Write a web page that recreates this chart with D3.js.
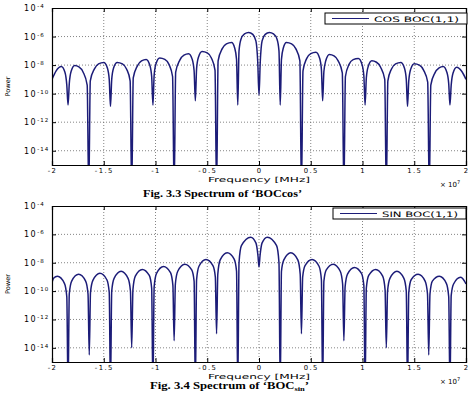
<!DOCTYPE html>
<html>
<head>
<meta charset="utf-8">
<script src="https://cdn.jsdelivr.net/npm/d3@7"></script>
<style>
  body { margin: 0; background: #fff; }
  text { font-family: "DejaVu Sans", "Liberation Sans", sans-serif; fill: #000; }
</style>
</head>
<body>
<svg id="fig" width="474" height="395"></svg>
<script>
// tick values
const xTickVals = [-2, -1.5, -1, -0.5, 0, 0.5, 1, 1.5, 2];
const yTickExps = [-4, -6, -8, -10, -12, -14];

// COS BOC(1,1): frequency (x10^7 Hz) and log10 power
const cosFreq = [-2.00, -1.96, -1.91, -1.875, -1.857, -1.845, -1.833, -1.815, -1.78, -1.74, -1.70, -1.66, -1.645,
  -1.63, -1.59, -1.55, -1.50, -1.465, -1.447, -1.435, -1.423, -1.405, -1.37, -1.32, -1.28, -1.245, -1.23,
  -1.215, -1.175, -1.135, -1.09, -1.055, -1.037, -1.025, -1.013, -0.995, -0.96, -0.91, -0.87, -0.835, -0.82,
  -0.805, -0.765, -0.725, -0.68, -0.645, -0.627, -0.615, -0.603, -0.585, -0.55, -0.50, -0.46, -0.425, -0.41,
  -0.395, -0.355, -0.315, -0.265, -0.235, -0.217, -0.205, -0.193, -0.175, -0.14, -0.10, -0.06, -0.03, -0.012, 0,
  0.012, 0.03, 0.06, 0.10, 0.14, 0.175, 0.193, 0.205, 0.217, 0.235, 0.265, 0.315, 0.355, 0.395,
  0.41, 0.425, 0.46, 0.50, 0.55, 0.585, 0.603, 0.615, 0.627, 0.645, 0.68, 0.725, 0.765, 0.805,
  0.82, 0.835, 0.87, 0.91, 0.96, 0.995, 1.013, 1.025, 1.037, 1.055, 1.09, 1.135, 1.175, 1.215,
  1.23, 1.245, 1.28, 1.32, 1.37, 1.405, 1.423, 1.435, 1.447, 1.465, 1.50, 1.55, 1.59, 1.63,
  1.645, 1.66, 1.70, 1.74, 1.78, 1.815, 1.833, 1.845, 1.857, 1.875, 1.91, 1.96, 2.00];
const cosLogP = [-9.0, -8.4, -8.1, -8.5, -9.4, -10.8, -9.3, -8.43, -8.03, -8.13, -8.48, -9.4, -17,
  -9.1, -8.27, -7.92, -7.82, -8.2, -9.0, -10.9, -9.0, -8.2, -7.82, -7.92, -8.27, -9.1, -17,
  -8.9, -8.05, -7.7, -7.6, -8.0, -8.8, -10.8, -8.7, -7.9, -7.5, -7.6, -7.95, -8.8, -17,
  -8.5, -7.65, -7.3, -7.2, -7.6, -8.4, -10.5, -8.25, -7.45, -7.05, -7.15, -7.5, -8.35, -17,
  -7.7, -6.85, -6.52, -6.42, -6.8, -7.6, -10.8, -7.0, -6.2, -5.82, -5.72, -5.85, -6.3, -7.8, -10.1,
  -7.8, -6.3, -5.85, -5.72, -5.82, -6.2, -7.0, -10.8, -7.6, -6.8, -6.42, -6.52, -6.85, -7.7,
  -17, -8.4, -7.55, -7.2, -7.1, -7.5, -8.3, -10.5, -8.45, -7.7, -7.25, -7.35, -7.7, -8.55,
  -17, -8.8, -7.95, -7.62, -7.54, -7.95, -8.75, -10.8, -8.9, -8.1, -7.7, -7.8, -8.15, -9.0,
  -17, -9.1, -8.27, -7.92, -7.82, -8.2, -9.0, -10.9, -9.1, -8.3, -7.9, -8.0, -8.35, -9.2,
  -17, -9.4, -8.55, -8.2, -8.1, -8.5, -9.3, -10.8, -9.4, -8.55, -8.15, -8.45, -9.0];

// SIN BOC(1,1)
const sinFreq = [-2.00, -1.985, -1.9475, -1.88, -1.857, -1.845, -1.833, -1.81, -1.7425, -1.675, -1.652, -1.64,
  -1.628, -1.605, -1.5375, -1.47, -1.447, -1.435, -1.423, -1.40, -1.3325, -1.265, -1.242, -1.23,
  -1.218, -1.195, -1.1275, -1.06, -1.037, -1.025, -1.013, -0.99, -0.9225, -0.855, -0.832, -0.82,
  -0.808, -0.785, -0.7175, -0.65, -0.627, -0.615, -0.603, -0.58, -0.5125, -0.445, -0.422, -0.41,
  -0.398, -0.375, -0.3075, -0.24, -0.217, -0.205, -0.193, -0.17, -0.08, -0.03, -0.01, 0,
  0.01, 0.03, 0.08, 0.17, 0.193, 0.205, 0.217, 0.24, 0.3075, 0.375, 0.398, 0.41,
  0.422, 0.445, 0.5125, 0.58, 0.603, 0.615, 0.627, 0.65, 0.7175, 0.785, 0.808, 0.82,
  0.832, 0.855, 0.9225, 0.99, 1.013, 1.025, 1.037, 1.06, 1.1275, 1.195, 1.218, 1.23,
  1.242, 1.265, 1.3325, 1.40, 1.423, 1.435, 1.447, 1.47, 1.5375, 1.605, 1.628, 1.64,
  1.652, 1.675, 1.7425, 1.81, 1.833, 1.845, 1.857, 1.88, 1.9475, 1.985, 2.00];
const sinLogP = [-9.4, -9.1, -8.96, -9.45, -10.4, -17, -10.2, -9.3, -8.82, -9.3, -10.2, -14.5,
  -10.1, -9.25, -8.75, -9.2, -10.1, -17, -10.0, -9.1, -8.6, -9.1, -10.0, -14.0,
  -9.9, -8.95, -8.47, -8.9, -9.8, -17, -9.7, -8.75, -8.26, -8.7, -9.6, -13.5,
  -9.5, -8.6, -8.1, -8.5, -9.3, -17, -9.2, -8.25, -7.77, -8.2, -9.0, -13.0,
  -8.8, -7.8, -7.3, -7.75, -8.6, -17, -8.0, -6.8, -6.2, -6.6, -7.5, -8.3,
  -7.5, -6.6, -6.2, -6.8, -8.0, -17, -8.6, -7.8, -7.3, -7.8, -8.8, -13.0,
  -9.0, -8.2, -7.77, -8.25, -9.2, -17, -9.3, -8.5, -8.1, -8.6, -9.5, -13.5,
  -9.7, -8.8, -8.33, -8.75, -9.6, -17, -9.8, -8.9, -8.47, -8.95, -9.9, -14.0,
  -10.0, -9.1, -8.6, -9.1, -10.0, -17, -10.1, -9.2, -8.82, -9.3, -10.2, -14.5,
  -10.2, -9.3, -8.96, -9.45, -10.4, -17, -10.3, -9.5, -9.03, -9.3, -9.5];

const panels = [
  { top: 8, bottom: 165, freq: cosFreq, logP: cosLogP, legend: "COS BOC(1,1)",
    box: [325, 13, 142, 11], caption: "Fig. 3.3 Spectrum of \u2018BOCcos\u2019", capX: 143, capY: 197, sub: null },
  { top: 206, bottom: 362, freq: sinFreq, logP: sinLogP, legend: "SIN BOC(1,1)",
    box: [333, 208, 133, 11], caption: "Fig. 3.4 Spectrum of \u2018BOC", capX: 150, capY: 389, sub: "sin" }
];

const svg = d3.select("#fig");
const left = 52, right = 466;
const lineColor = "#1c1c78";

panels.forEach((p, i) => {
  const x = d3.scaleLinear().domain([-2, 2]).range([left, right]);
  const y = d3.scaleLog().domain([1e-15, 1e-4]).range([p.bottom, p.top]);
  const g = svg.append("g");

  // grid
  g.append("g").selectAll("line")
    .data(xTickVals.slice(1, -1))
    .join("line")
    .attr("x1", d => x(d)).attr("x2", d => x(d))
    .attr("y1", p.top).attr("y2", p.bottom)
    .attr("stroke", "#666").attr("stroke-width", 0.8).attr("stroke-dasharray", "1,2");
  g.append("g").selectAll("line")
    .data(yTickExps.slice(1))
    .join("line")
    .attr("x1", left).attr("x2", right)
    .attr("y1", d => y(Math.pow(10, d))).attr("y2", d => y(Math.pow(10, d)))
    .attr("stroke", "#666").attr("stroke-width", 0.8).attr("stroke-dasharray", "1,2");

  // the spectrum
  const clipId = "clip" + i;
  svg.append("clipPath").attr("id", clipId)
    .append("rect").attr("x", left).attr("y", p.top).attr("width", right - left).attr("height", p.bottom - p.top);
  const pts = p.freq.map((f, k) => ({ f: f, e: p.logP[k] }));
  const line = d3.line()
    .x(d => x(d.f))
    .y(d => y(Math.pow(10, d.e)))
    .curve(d3.curveMonotoneX);
  g.append("path")
    .datum(pts)
    .attr("clip-path", "url(#" + clipId + ")")
    .attr("fill", "none")
    .attr("stroke", lineColor)
    .attr("stroke-width", 1.5)
    .attr("d", line);

  // axes: ticks inward on all sides
  const xb = d3.axisBottom(x).tickValues(xTickVals).tickSize(-4).tickFormat(d => d);
  const xt = d3.axisTop(x).tickValues(xTickVals).tickSize(-4).tickFormat("");
  const yl = d3.axisLeft(y).tickValues(yTickExps.map(e => Math.pow(10, e))).tickSize(-4).tickFormat("");
  const yr = d3.axisRight(y).tickValues(yTickExps.map(e => Math.pow(10, e))).tickSize(-4).tickFormat("");
  const gx = g.append("g").attr("transform", `translate(0,${p.bottom})`).call(xb);
  g.append("g").attr("transform", `translate(0,${p.top})`).call(xt);
  g.append("g").attr("transform", `translate(${left},0)`).call(yl);
  g.append("g").attr("transform", `translate(${right},0)`).call(yr);
  g.selectAll(".domain").attr("stroke", "#000").attr("stroke-width", 1.2);
  g.selectAll(".tick line").attr("stroke", "#000");
  gx.selectAll(".tick text").attr("dy", 0).attr("y", 8)
    .style("font-size", "6.8px").attr("letter-spacing", "1.4px");

  // y tick labels as 10^e
  const yl2 = g.append("g");
  yTickExps.forEach(e => {
    const t = yl2.append("text")
      .attr("x", 24).attr("y", y(Math.pow(10, e)) + 3)
      .style("font-size", "8px").attr("letter-spacing", "1.5px");
    t.append("tspan").text("10");
    t.append("tspan").attr("dy", -3).style("font-size", "5.5px").attr("letter-spacing", "1px").text("-" + (-e));
  });

  // axis labels
  g.append("text")
    .attr("transform", `translate(10,${(p.top + p.bottom) / 2}) rotate(-90)`)
    .attr("text-anchor", "middle")
    .attr("textLength", 20).attr("lengthAdjust", "spacingAndGlyphs")
    .style("font-size", "6.5px")
    .text("Power");
  g.append("text")
    .attr("x", x(0)).attr("y", p.bottom + 17)
    .attr("text-anchor", "middle")
    .attr("textLength", 102).attr("lengthAdjust", "spacingAndGlyphs")
    .style("font-size", "7px")
    .text("Frequency [MHz]");
  const ex = g.append("text")
    .attr("x", 440).attr("y", p.bottom + 22)
    .style("font-size", "7px");
  ex.append("tspan").text("\u00d7 10");
  ex.append("tspan").attr("dy", -3).style("font-size", "5px").text("7");

  // legend
  const [bx, by, bw, bh] = p.box;
  g.append("rect").attr("x", bx).attr("y", by).attr("width", bw).attr("height", bh)
    .attr("fill", "#fff").attr("stroke", "#000").attr("stroke-width", 1);
  g.append("line").attr("x1", bx + 7).attr("x2", bx + 44)
    .attr("y1", by + bh / 2).attr("y2", by + bh / 2)
    .attr("stroke", lineColor).attr("stroke-width", 1);
  g.append("text").attr("x", bx + 49).attr("y", by + bh / 2 + 3)
    .attr("textLength", bw - 57).attr("lengthAdjust", "spacingAndGlyphs")
    .style("font-size", "7.5px")
    .text(p.legend);

  // caption
  const cap = svg.append("text")
    .attr("x", p.capX).attr("y", p.capY)
    .attr("textLength", 159).attr("lengthAdjust", "spacingAndGlyphs")
    .style("font-family", "'Liberation Serif', 'Times New Roman', serif")
    .style("font-weight", "bold")
    .style("font-size", "10.5px");
  cap.append("tspan").text(p.caption);
  if (p.sub) {
    cap.append("tspan").attr("dy", 2).style("font-size", "7px").text(p.sub);
    cap.append("tspan").attr("dy", -2).text("\u2019");
  }
});
</script>
</body>
</html>
